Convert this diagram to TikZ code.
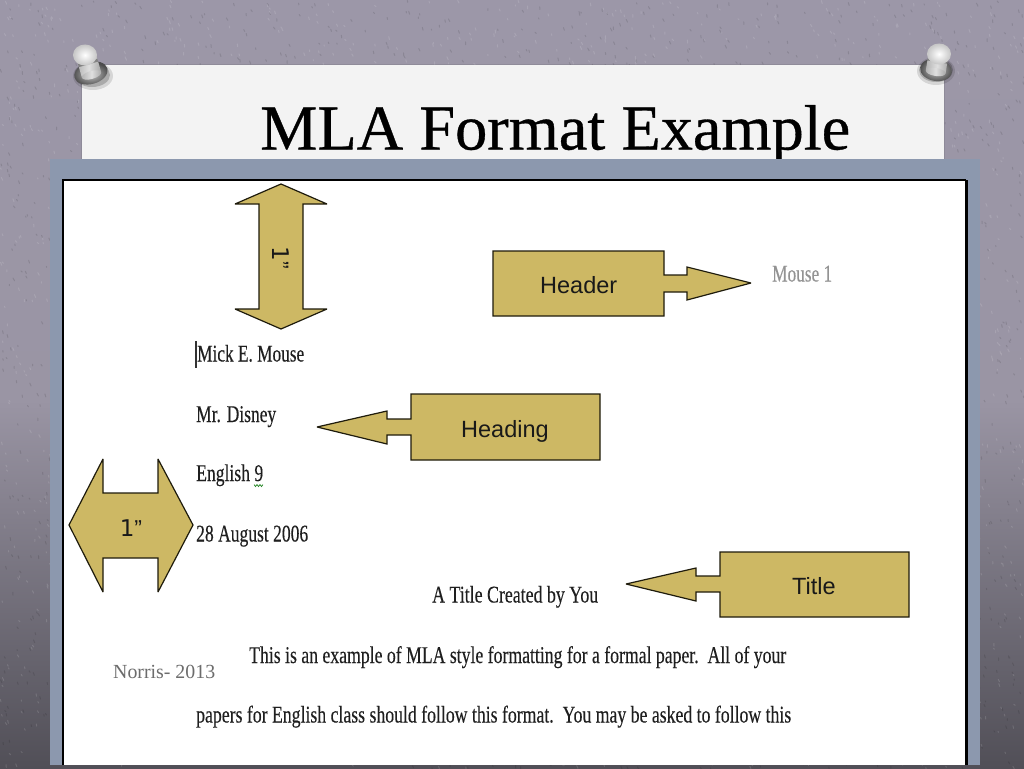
\documentclass[tikz,border=0pt]{standalone}
\usepackage{fontspec}
\usepackage{graphicx}
\setmainfont{Liberation Serif}
\newfontfamily\lblfont{Liberation Sans}
\newfontfamily\numfont{DejaVu Sans}
\newfontfamily\headfont[FakeBold=0.5]{Liberation Serif}
\newfontfamily\docfont[FakeBold=0.25]{Liberation Serif}
\definecolor{gold}{HTML}{CDB864}
\definecolor{edgeink}{HTML}{1E1B0C}
\definecolor{framebg}{HTML}{8C98AE}
\definecolor{bgtop}{HTML}{9C97A8}
\definecolor{bgmid}{HTML}{9A95A4}
\definecolor{bglow}{HTML}{514F57}
\definecolor{paper}{HTML}{F3F3F3}
\newcommand\fitw[2]{\resizebox{#1pt}{\height}{#2}}
\newcommand\inchmark{{\numfont 1}{\lblfont ”}}
\tikzset{
  callout/.style={draw=edgeink,fill=gold,line width=1.2pt,line join=miter,miter limit=2.5},
  lbl/.style={font=\lblfont\fontsize{23.5}{28}\selectfont,text=black!90,inner sep=0pt,anchor=base west},
  numlbl/.style={font=\fontsize{23}{28}\selectfont,text=black!90,inner sep=0pt},
  doc/.style={font=\docfont\fontsize{24}{28}\selectfont,text=black!88,inner sep=0pt,anchor=base west},
  pinbase/.style={inner color=gray!45,outer color=gray!60!black},
  pinhead/.style={inner color=white,outer color=gray!45},
  pinstem/.style={left color=gray!60,right color=gray!70,middle color=gray!25},
}
\begin{document}
\begin{tikzpicture}[x=1pt,y=-1pt]
\useasboundingbox (0,0) rectangle (1024,768);
% wall
\shade[top color=bgtop,bottom color=bgmid] (0,0) rectangle (1024,400.5);
\shade[top color=bgmid,bottom color=bglow] (0,400) rectangle (1024,768);
\pgfmathsetseed{11}
\draw[white,opacity=.13,line width=1pt,line cap=round]
  \foreach \i in {1,...,2600}{ ({rnd*1024},{rnd*768}) -- ++({rnd*1.5},{1+rnd*2}) };
\draw[black,opacity=.11,line width=1pt,line cap=round]
  \foreach \i in {1,...,2600}{ ({rnd*1024},{rnd*768}) -- ++({rnd*1.5},{1+rnd*2}) };
% paper
\fill[black,opacity=.08] (81,64) rectangle (945,160);
\fill[paper] (82,65) rectangle (944,160);
% title, its descender goes behind the frame
\node[font=\headfont\fontsize{64}{70}\selectfont,text=black,inner sep=0pt,anchor=base west] (slidetitle) at (260,149.5) {\fitw{590}{MLA Format Example}};
% pins
\fill[black,opacity=.12] (93,76) ellipse [x radius=20,y radius=14];
\fill[black,opacity=.2] (92,75) ellipse [x radius=18,y radius=12];
\begin{scope}[shift={(91,73)},rotate=16]
  \shade[pinbase] (0,0) ellipse [x radius=17,y radius=11];
  \shade[pinstem] (-10,-18) rectangle (10,2);
  \shade[pinstem] (0,2) ellipse [x radius=10,y radius=4];
  \fill[gray!45!black,opacity=.45] (-10,-12) rectangle (10,-9);
\end{scope}
\shade[pinhead] (85,55) ellipse [x radius=12,y radius=10.5];
\fill[black,opacity=.12] (936,71) ellipse [x radius=19,y radius=14];
\fill[black,opacity=.2] (936,70) ellipse [x radius=17,y radius=12];
\begin{scope}[shift={(936,70)},rotate=-9]
  \shade[pinbase] (0,0) ellipse [x radius=16,y radius=11];
  \shade[pinstem] (-10,-17) rectangle (10,2);
  \shade[pinstem] (0,2) ellipse [x radius=10,y radius=4];
  \fill[gray!45!black,opacity=.45] (-10,-11) rectangle (10,-8);
\end{scope}
\shade[pinhead] (939,54) ellipse [x radius=12,y radius=10.5];
% frame and page
\fill[framebg] (50,159) rectangle (980,765);
\fill[white] (63,180) rectangle (966,765);
\draw[black,line width=1.1pt] (63,765) -- (63,180) -- (966,180);
\fill[black] (965,180) rectangle (968,765);
% page text
\node[doc] (mick) at (197,361.5) {\fitw{107}{Mick E. Mouse}};
\draw[black!80,line width=1.4pt] (196,341) -- (196,368);
\node[doc] (disney) at (196,422) {\fitw{80}{Mr. Disney}};
\node[doc] (english) at (196,481) {\fitw{67}{English 9}};
\draw[green!45!black,line width=.6pt] (254,484.5) -- (255.5,486.5) -- (257,484.5) -- (258.5,486.5) -- (260,484.5) -- (261.5,486.5) -- (263,484.5);
\node[doc] (date) at (196,541.5) {\fitw{112}{28 August 2006}};
\node[doc] (doctitle) at (432,602.5) {\fitw{166}{A Title Created by You}};
\node[doc] (line1) at (249,663) {\fitw{537}{This is an example of MLA style formatting for a formal paper.\ \ All of your}};
\node[doc] (line2) at (196,722.5) {\fitw{595}{papers for English class should follow this format.\ \ You may be asked to follow this}};
\node[doc,text=gray!85] (mouse) at (772,281.5) {\fitw{60}{Mouse 1}};
\node[font=\fontsize{20}{24}\selectfont,text=gray!85!black,inner sep=0pt,anchor=base west] (norris) at (113,678) {\fitw{102}{Norris- 2013}};
% vertical double arrow
\draw[callout] (281,184) -- (327,204) -- (303,204) -- (303,309) -- (327,309) -- (281,329) -- (235,309) -- (259,309) -- (259,204) -- (235,204) -- cycle;
\node[numlbl,rotate=-90] (oneinv) at (281,258) {\inchmark};
% horizontal double arrow
\draw[callout] (69,525) -- (103,459) -- (103,493) -- (158,493) -- (158,459) -- (193,525) -- (158,592) -- (158,558) -- (103,558) -- (103,592) -- cycle;
\node[numlbl,anchor=base] (oneinh) at (131,536.5) {\inchmark};
% header callout
\draw[callout] (493,251) -- (664,251) -- (664,275) -- (687,275) -- (687,267) -- (751,283) -- (687,300) -- (687,292) -- (664,292) -- (664,316) -- (493,316) -- cycle;
\node[lbl] (header) at (540,293) {Header};
% heading callout
\draw[callout] (600,394) -- (411,394) -- (411,419) -- (387,419) -- (387,411) -- (317,427) -- (387,444) -- (387,435) -- (411,435) -- (411,460) -- (600,460) -- cycle;
\node[lbl] (heading) at (461,437) {Heading};
% title callout
\draw[callout] (909,552) -- (720,552) -- (720,576) -- (696,576) -- (696,568) -- (626,584) -- (696,601) -- (696,592) -- (720,592) -- (720,617) -- (909,617) -- cycle;
\node[lbl] (titlelbl) at (792,594) {Title};
\end{tikzpicture}
\end{document}
